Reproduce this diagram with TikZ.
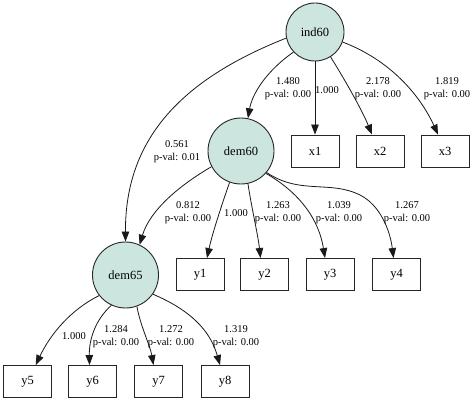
\documentclass[tikz,border=0pt]{standalone}
\usepackage{fontspec}
\setmainfont{Liberation Serif}
\usetikzlibrary{arrows.meta}
\definecolor{lat}{HTML}{CCE6DF}
\begin{document}
\begin{tikzpicture}[x=1pt,y=-1pt,
  latent/.style={circle,draw=black!85,fill=lat,line width=0.9pt,inner sep=0pt,font=\fontsize{12.5}{14}\selectfont},
  obs/.style={rectangle,draw=black!85,line width=0.9pt,minimum width=48pt,minimum height=32pt,inner sep=0pt,font=\fontsize{12.5}{14}\selectfont},
  edge/.style={draw=black!90,line width=0.8pt,-{Triangle[length=10pt,width=7.5pt]}},
  lab/.style={font=\fontsize{10.5}{13}\selectfont,align=center,inner sep=0pt}]
\useasboundingbox (0,0) rectangle (474,401);
% latent nodes
\node[latent,minimum size=58pt] (ind60) at (315,32) {ind60};
\node[latent,minimum size=66pt] (dem60) at (241,151) {dem60};
\node[latent,minimum size=66pt] (dem65) at (125.5,275) {dem65};
% observed
\node[obs] (x1) at (315,151) {x1};
\node[obs] (x2) at (380,151) {x2};
\node[obs] (x3) at (445,151) {x3};
\node[obs] (y1) at (200,274.5) {y1};
\node[obs] (y2) at (264.5,274.5) {y2};
\node[obs] (y3) at (330,274.5) {y3};
\node[obs] (y4) at (396.5,274.5) {y4};
\node[obs] (y5) at (27.7,381.5) {y5};
\node[obs] (y6) at (92.5,381.5) {y6};
\node[obs] (y7) at (158.5,381.5) {y7};
\node[obs] (y8) at (225,381.5) {y8};
% edges from ind60
\draw[edge] (ind60.192) .. controls (180,80) and (125,140) .. (dem65.north);
\draw[edge] (ind60.223) .. controls (265,72) and (252,95) .. (dem60.78);
\draw[edge] (ind60.south) -- (x1.north);
\draw[edge] (ind60.-58) .. controls (345,80) and (362,110) .. ([xshift=-8pt]x2.north);
\draw[edge] (ind60.-20) .. controls (390,60) and (420,95) .. ([xshift=-7pt]x3.north);
% edges from dem60
\draw[edge] (dem60.208) .. controls (180,185) and (150,210) .. (dem65.65);
\draw[edge] (dem60.250) .. controls (220,210) and (212,235) .. ([xshift=7pt]y1.north);
\draw[edge] (dem60.282) .. controls (252,210) and (258,235) .. ([xshift=-4pt]y2.north);
\draw[edge] (dem60.-42) .. controls (295,190) and (318,215) .. ([xshift=-5pt]y3.north);
\draw[edge] (dem60.-40) .. controls (300,195) and (330,180) .. (360,195) .. controls (380,205) and (390,230) .. ([xshift=-3pt]y4.north);
% edges from dem65
\draw[edge] (dem65.218) .. controls (70,310) and (50,335) .. ([xshift=8pt]y5.north);
\draw[edge] (dem65.245) .. controls (95,320) and (89,340) .. ([xshift=-3pt]y6.north);
\draw[edge] (dem65.-70) .. controls (140,325) and (150,345) .. ([xshift=-5pt]y7.north);
\draw[edge] (dem65.-35) .. controls (190,310) and (210,330) .. ([xshift=-5pt]y8.north);
% labels
\node[lab] (l1) at (288,89) {1.480\\p-val: 0.00};
\node[lab] (l2) at (327,90) {1.000};
\node[lab] (l3) at (378,89) {2.178\\p-val: 0.00};
\node[lab] (l4) at (447,89) {1.819\\p-val: 0.00};
\node[lab] (l5) at (177,152) {0.561\\p-val: 0.01};
\node[lab] (l6) at (188,213) {0.812\\p-val: 0.00};
\node[lab] (l7) at (236,213) {1.000};
\node[lab] (l8) at (278,213) {1.263\\p-val: 0.00};
\node[lab] (l9) at (339,213) {1.039\\p-val: 0.00};
\node[lab] (l10) at (407,213) {1.267\\p-val: 0.00};
\node[lab] (l11) at (74,336) {1.000};
\node[lab] (l12) at (116,337) {1.284\\p-val: 0.00};
\node[lab] (l13) at (171,337) {1.272\\p-val: 0.00};
\node[lab] (l14) at (236,337) {1.319\\p-val: 0.00};
\end{tikzpicture}
\end{document}
